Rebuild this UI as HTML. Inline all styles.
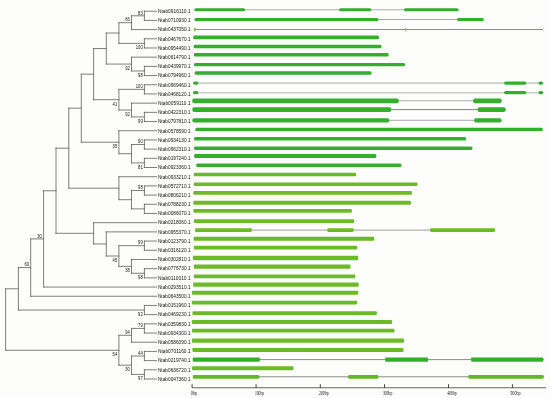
<!DOCTYPE html><html><head><meta charset="utf-8"><title>tree</title><style>html,body{margin:0;padding:0;background:#fdfdfc}svg{display:block}text{font-family:"Liberation Sans",Arial,sans-serif;fill:#141414}.ax{font-family:"Liberation Serif","Times New Roman",serif}</style></head><body>
<svg width="550" height="398" viewBox="0 0 550 398">
<rect width="550" height="398" fill="#fdfdfc"/>
<path d="M144.40 11.20L156.70 11.20M144.40 20.39L156.70 20.39M144.40 11.20L144.40 20.39M131.50 15.80L144.40 15.80M131.50 29.59L156.70 29.59M131.50 15.80L131.50 29.59M118.90 22.69L131.50 22.69M144.40 38.78L156.70 38.78M144.40 47.98L156.70 47.98M144.40 38.78L144.40 47.98M118.90 43.38L144.40 43.38M118.90 22.69L118.90 43.38M106.30 33.04L118.90 33.04M131.50 57.17L156.70 57.17M144.40 66.37L156.70 66.37M144.40 75.57L156.70 75.57M144.40 66.37L144.40 75.57M131.50 70.97L144.40 70.97M131.50 57.17L131.50 70.97M106.30 64.07L131.50 64.07M106.30 33.04L106.30 64.07M93.60 48.55L106.30 48.55M144.40 84.76L156.70 84.76M144.40 93.95L156.70 93.95M144.40 84.76L144.40 93.95M118.90 89.36L144.40 89.36M131.50 103.15L156.70 103.15M144.40 112.35L156.70 112.35M144.40 121.54L156.70 121.54M144.40 112.35L144.40 121.54M131.50 116.94L144.40 116.94M131.50 103.15L131.50 116.94M118.90 110.05L131.50 110.05M118.90 89.36L118.90 110.05M93.60 99.70L118.90 99.70M93.60 48.55L93.60 99.70M81.30 74.13L93.60 74.13M118.90 130.73L156.70 130.73M144.40 139.93L156.70 139.93M144.40 149.12L156.70 149.12M144.40 139.93L144.40 149.12M131.50 144.53L144.40 144.53M144.40 158.32L156.70 158.32M144.40 167.51L156.70 167.51M144.40 158.32L144.40 167.51M131.50 162.92L144.40 162.92M131.50 144.53L131.50 162.92M118.90 153.72L131.50 153.72M118.90 130.73L118.90 153.72M81.30 142.23L118.90 142.23M81.30 74.13L81.30 142.23M68.80 108.18L81.30 108.18M118.90 176.71L156.70 176.71M144.40 185.91L156.70 185.91M144.40 195.10L156.70 195.10M144.40 185.91L144.40 195.10M131.50 190.50L144.40 190.50M144.40 204.29L156.70 204.29M144.40 213.49L156.70 213.49M144.40 204.29L144.40 213.49M131.50 208.89L144.40 208.89M131.50 190.50L131.50 208.89M118.90 199.70L131.50 199.70M118.90 176.71L118.90 199.70M68.80 188.20L118.90 188.20M68.80 108.18L68.80 188.20M56.00 148.19L68.80 148.19M93.60 222.69L156.70 222.69M106.30 231.88L156.70 231.88M144.40 241.07L156.70 241.07M144.40 250.27L156.70 250.27M144.40 241.07L144.40 250.27M118.90 245.67L144.40 245.67M131.50 259.47L156.70 259.47M144.40 268.66L156.70 268.66M144.40 277.86L156.70 277.86M144.40 268.66L144.40 277.86M131.50 273.26L144.40 273.26M131.50 259.47L131.50 273.26M118.90 266.36L131.50 266.36M118.90 245.67L118.90 266.36M106.30 256.02L118.90 256.02M106.30 231.88L106.30 256.02M93.60 243.95L106.30 243.95M93.60 222.69L93.60 243.95M56.00 233.32L93.60 233.32M56.00 148.19L56.00 233.32M43.60 190.75L56.00 190.75M43.60 287.05L156.70 287.05M43.60 190.75L43.60 287.05M30.70 238.90L43.60 238.90M30.70 296.25L156.70 296.25M30.70 238.90L30.70 296.25M18.40 267.57L30.70 267.57M144.40 305.44L156.70 305.44M144.40 314.63L156.70 314.63M144.40 305.44L144.40 314.63M18.40 310.04L144.40 310.04M18.40 267.57L18.40 310.04M5.60 288.81L18.40 288.81M144.40 323.83L156.70 323.83M144.40 333.02L156.70 333.02M144.40 323.83L144.40 333.02M131.50 328.43L144.40 328.43M131.50 342.22L156.70 342.22M131.50 328.43L131.50 342.22M118.90 335.32L131.50 335.32M144.40 351.42L156.70 351.42M144.40 360.61L156.70 360.61M144.40 351.42L144.40 360.61M131.50 356.01L144.40 356.01M144.40 369.81L156.70 369.81M144.40 379.00L156.70 379.00M144.40 369.81L144.40 379.00M131.50 374.40L144.40 374.40M131.50 356.01L131.50 374.40M118.90 365.21L131.50 365.21M118.90 335.32L118.90 365.21M5.60 350.27L118.90 350.27M5.60 288.81L5.60 350.27" fill="none" stroke="#5e5e5e" stroke-width="0.8" stroke-linecap="square"/>
<text x="142.7" y="14.5" font-size="4.7" fill="#111" text-anchor="end" textLength="4.60" lengthAdjust="spacingAndGlyphs">83</text>
<text x="129.8" y="21.4" font-size="4.7" fill="#111" text-anchor="end" textLength="4.60" lengthAdjust="spacingAndGlyphs">66</text>
<text x="142.7" y="49.2" font-size="4.7" fill="#111" text-anchor="end" textLength="6.90" lengthAdjust="spacingAndGlyphs">100</text>
<text x="142.7" y="76.8" font-size="4.7" fill="#111" text-anchor="end" textLength="4.60" lengthAdjust="spacingAndGlyphs">98</text>
<text x="129.8" y="69.9" font-size="4.7" fill="#111" text-anchor="end" textLength="4.60" lengthAdjust="spacingAndGlyphs">92</text>
<text x="142.7" y="88.1" font-size="4.7" fill="#111" text-anchor="end" textLength="6.90" lengthAdjust="spacingAndGlyphs">100</text>
<text x="142.7" y="122.7" font-size="4.7" fill="#111" text-anchor="end" textLength="4.60" lengthAdjust="spacingAndGlyphs">99</text>
<text x="129.8" y="115.8" font-size="4.7" fill="#111" text-anchor="end" textLength="4.60" lengthAdjust="spacingAndGlyphs">92</text>
<text x="117.2" y="105.5" font-size="4.7" fill="#111" text-anchor="end" textLength="4.60" lengthAdjust="spacingAndGlyphs">41</text>
<text x="142.7" y="143.2" font-size="4.7" fill="#111" text-anchor="end" textLength="4.60" lengthAdjust="spacingAndGlyphs">90</text>
<text x="142.7" y="168.7" font-size="4.7" fill="#111" text-anchor="end" textLength="4.60" lengthAdjust="spacingAndGlyphs">81</text>
<text x="117.2" y="148.0" font-size="4.7" fill="#111" text-anchor="end" textLength="4.60" lengthAdjust="spacingAndGlyphs">35</text>
<text x="142.7" y="189.2" font-size="4.7" fill="#111" text-anchor="end" textLength="4.60" lengthAdjust="spacingAndGlyphs">98</text>
<text x="142.7" y="244.4" font-size="4.7" fill="#111" text-anchor="end" textLength="4.60" lengthAdjust="spacingAndGlyphs">99</text>
<text x="142.7" y="279.1" font-size="4.7" fill="#111" text-anchor="end" textLength="4.60" lengthAdjust="spacingAndGlyphs">98</text>
<text x="129.8" y="272.2" font-size="4.7" fill="#111" text-anchor="end" textLength="4.60" lengthAdjust="spacingAndGlyphs">38</text>
<text x="117.2" y="261.8" font-size="4.7" fill="#111" text-anchor="end" textLength="4.60" lengthAdjust="spacingAndGlyphs">45</text>
<text x="41.9" y="237.6" font-size="4.7" fill="#111" text-anchor="end" textLength="4.60" lengthAdjust="spacingAndGlyphs">30</text>
<text x="29.0" y="266.3" font-size="4.7" fill="#111" text-anchor="end" textLength="4.60" lengthAdjust="spacingAndGlyphs">60</text>
<text x="142.7" y="315.8" font-size="4.7" fill="#111" text-anchor="end" textLength="4.60" lengthAdjust="spacingAndGlyphs">92</text>
<text x="142.7" y="327.1" font-size="4.7" fill="#111" text-anchor="end" textLength="4.60" lengthAdjust="spacingAndGlyphs">79</text>
<text x="129.8" y="334.0" font-size="4.7" fill="#111" text-anchor="end" textLength="4.60" lengthAdjust="spacingAndGlyphs">94</text>
<text x="142.7" y="354.7" font-size="4.7" fill="#111" text-anchor="end" textLength="4.60" lengthAdjust="spacingAndGlyphs">44</text>
<text x="142.7" y="380.2" font-size="4.7" fill="#111" text-anchor="end" textLength="4.60" lengthAdjust="spacingAndGlyphs">97</text>
<text x="129.8" y="371.0" font-size="4.7" fill="#111" text-anchor="end" textLength="4.60" lengthAdjust="spacingAndGlyphs">30</text>
<text x="117.2" y="356.1" font-size="4.7" fill="#111" text-anchor="end" textLength="4.60" lengthAdjust="spacingAndGlyphs">54</text>
<text x="157.9" y="12.9" font-size="5" textLength="32.7" lengthAdjust="spacingAndGlyphs">Ntab0916110.1</text>
<text x="157.9" y="22.1" font-size="5" textLength="32.7" lengthAdjust="spacingAndGlyphs">Ntab0710930.1</text>
<text x="157.9" y="31.3" font-size="5" textLength="32.7" lengthAdjust="spacingAndGlyphs">Ntab0437050.1</text>
<text x="157.9" y="40.5" font-size="5" textLength="32.7" lengthAdjust="spacingAndGlyphs">Ntab0467670.1</text>
<text x="157.9" y="49.7" font-size="5" textLength="32.7" lengthAdjust="spacingAndGlyphs">Ntab0954490.1</text>
<text x="157.9" y="58.9" font-size="5" textLength="32.7" lengthAdjust="spacingAndGlyphs">Ntab0614790.1</text>
<text x="157.9" y="68.1" font-size="5" textLength="32.7" lengthAdjust="spacingAndGlyphs">Ntab0439970.1</text>
<text x="157.9" y="77.3" font-size="5" textLength="32.7" lengthAdjust="spacingAndGlyphs">Ntab0794960.1</text>
<text x="157.9" y="86.5" font-size="5" textLength="32.7" lengthAdjust="spacingAndGlyphs">Ntab0969460.1</text>
<text x="157.9" y="95.7" font-size="5" textLength="32.7" lengthAdjust="spacingAndGlyphs">Ntab0468120.1</text>
<text x="157.9" y="104.9" font-size="5" textLength="32.7" lengthAdjust="spacingAndGlyphs">Ntab0059110.1</text>
<text x="157.9" y="114.1" font-size="5" textLength="32.7" lengthAdjust="spacingAndGlyphs">Ntab0422310.1</text>
<text x="157.9" y="123.3" font-size="5" textLength="32.7" lengthAdjust="spacingAndGlyphs">Ntab0797810.1</text>
<text x="157.9" y="132.5" font-size="5" textLength="32.7" lengthAdjust="spacingAndGlyphs">Ntab0578590.1</text>
<text x="157.9" y="141.7" font-size="5" textLength="32.7" lengthAdjust="spacingAndGlyphs">Ntab0934130.1</text>
<text x="157.9" y="150.9" font-size="5" textLength="32.7" lengthAdjust="spacingAndGlyphs">Ntab0962310.1</text>
<text x="157.9" y="160.1" font-size="5" textLength="32.7" lengthAdjust="spacingAndGlyphs">Ntab0197240.1</text>
<text x="157.9" y="169.3" font-size="5" textLength="32.7" lengthAdjust="spacingAndGlyphs">Ntab0923360.1</text>
<text x="157.9" y="178.5" font-size="5" textLength="32.7" lengthAdjust="spacingAndGlyphs">Ntab0933210.1</text>
<text x="157.9" y="187.7" font-size="5" textLength="32.7" lengthAdjust="spacingAndGlyphs">Ntab0572710.1</text>
<text x="157.9" y="196.8" font-size="5" textLength="32.7" lengthAdjust="spacingAndGlyphs">Ntab0806210.1</text>
<text x="157.9" y="206.0" font-size="5" textLength="32.7" lengthAdjust="spacingAndGlyphs">Ntab0788230.1</text>
<text x="157.9" y="215.2" font-size="5" textLength="32.7" lengthAdjust="spacingAndGlyphs">Ntab0086070.1</text>
<text x="157.9" y="224.4" font-size="5" textLength="32.7" lengthAdjust="spacingAndGlyphs">Ntab0218060.1</text>
<text x="157.9" y="233.6" font-size="5" textLength="32.7" lengthAdjust="spacingAndGlyphs">Ntab0955370.1</text>
<text x="157.9" y="242.8" font-size="5" textLength="32.7" lengthAdjust="spacingAndGlyphs">Ntab0123790.1</text>
<text x="157.9" y="252.0" font-size="5" textLength="32.7" lengthAdjust="spacingAndGlyphs">Ntab0316120.1</text>
<text x="157.9" y="261.2" font-size="5" textLength="32.7" lengthAdjust="spacingAndGlyphs">Ntab0302810.1</text>
<text x="157.9" y="270.4" font-size="5" textLength="32.7" lengthAdjust="spacingAndGlyphs">Ntab0776730.1</text>
<text x="157.9" y="279.6" font-size="5" textLength="32.7" lengthAdjust="spacingAndGlyphs">Ntab0110010.1</text>
<text x="157.9" y="288.8" font-size="5" textLength="32.7" lengthAdjust="spacingAndGlyphs">Ntab0293510.1</text>
<text x="157.9" y="298.0" font-size="5" textLength="32.7" lengthAdjust="spacingAndGlyphs">Ntab0643500.1</text>
<text x="157.9" y="307.2" font-size="5" textLength="32.7" lengthAdjust="spacingAndGlyphs">Ntab0151960.1</text>
<text x="157.9" y="316.4" font-size="5" textLength="32.7" lengthAdjust="spacingAndGlyphs">Ntab0469230.1</text>
<text x="157.9" y="325.6" font-size="5" textLength="32.7" lengthAdjust="spacingAndGlyphs">Ntab0359830.1</text>
<text x="157.9" y="334.8" font-size="5" textLength="32.7" lengthAdjust="spacingAndGlyphs">Ntab0934300.1</text>
<text x="157.9" y="344.0" font-size="5" textLength="32.7" lengthAdjust="spacingAndGlyphs">Ntab0586090.1</text>
<text x="157.9" y="353.2" font-size="5" textLength="32.7" lengthAdjust="spacingAndGlyphs">Ntab0701160.1</text>
<text x="157.9" y="362.4" font-size="5" textLength="32.7" lengthAdjust="spacingAndGlyphs">Ntab0219740.1</text>
<text x="157.9" y="371.6" font-size="5" textLength="32.7" lengthAdjust="spacingAndGlyphs">Ntab0636720.1</text>
<text x="157.9" y="380.8" font-size="5" textLength="32.7" lengthAdjust="spacingAndGlyphs">Ntab0047360.1</text>
<line x1="195.4" y1="9.8" x2="459.0" y2="9.8" stroke="#aaaaaa" stroke-width="1.0"/>
<rect x="194.4" y="8.30" width="50.7" height="3.0" rx="1.35" ry="1.50" fill="#33af2c"/>
<rect x="339.1" y="8.30" width="32.2" height="3.0" rx="1.35" ry="1.50" fill="#33af2c"/>
<rect x="404.0" y="8.30" width="54.5" height="3.0" rx="1.35" ry="1.50" fill="#33af2c"/>
<line x1="195.4" y1="19.5" x2="484.2" y2="19.5" stroke="#aaaaaa" stroke-width="1.0"/>
<rect x="194.4" y="18.00" width="184.1" height="3.0" rx="1.35" ry="1.50" fill="#33af2c"/>
<rect x="457.0" y="18.00" width="26.7" height="3.0" rx="1.35" ry="1.50" fill="#33af2c"/>
<line x1="194.9" y1="29.5" x2="543.0" y2="29.5" stroke="#7d7d7d" stroke-width="0.9"/>
<rect x="193.9" y="27.50" width="1.7" height="4.0" rx="0.85" ry="2.00" fill="#62bf2e"/>
<rect x="193.2" y="35.52" width="185.8" height="3.8" rx="1.35" ry="1.50" fill="#33af2c"/>
<rect x="193.6" y="44.73" width="187.9" height="3.6" rx="1.35" ry="1.50" fill="#33af2c"/>
<rect x="193.8" y="53.03" width="194.9" height="3.4" rx="1.35" ry="1.50" fill="#33af2c"/>
<rect x="194.0" y="62.92" width="211.1" height="3.4" rx="1.35" ry="1.50" fill="#33af2c"/>
<rect x="194.6" y="71.23" width="176.9" height="3.4" rx="1.35" ry="1.50" fill="#33af2c"/>
<line x1="194.0" y1="83.1" x2="543.6" y2="83.1" stroke="#cccccc" stroke-width="1.6"/>
<rect x="193.0" y="81.45" width="5.4" height="3.3" rx="1.65" ry="1.65" fill="#33af2c"/>
<rect x="504.1" y="81.45" width="22.2" height="3.3" rx="1.65" ry="1.65" fill="#33af2c"/>
<rect x="538.5" y="81.45" width="4.6" height="3.3" rx="1.65" ry="1.65" fill="#33af2c"/>
<line x1="194.0" y1="92.7" x2="543.6" y2="92.7" stroke="#cccccc" stroke-width="1.6"/>
<rect x="193.0" y="91.05" width="5.4" height="3.3" rx="1.65" ry="1.65" fill="#33af2c"/>
<rect x="504.1" y="91.05" width="22.2" height="3.3" rx="1.65" ry="1.65" fill="#33af2c"/>
<rect x="538.5" y="91.05" width="4.6" height="3.3" rx="1.65" ry="1.65" fill="#33af2c"/>
<line x1="193.3" y1="100.8" x2="502.0" y2="100.8" stroke="#a8a8a8" stroke-width="1.0"/>
<rect x="192.3" y="98.45" width="206.4" height="4.7" rx="1.90" ry="1.90" fill="#33af2c"/>
<rect x="473.1" y="98.45" width="28.4" height="4.7" rx="1.90" ry="1.90" fill="#33af2c"/>
<line x1="193.3" y1="109.6" x2="506.0" y2="109.6" stroke="#808080" stroke-width="1.0"/>
<rect x="192.3" y="107.25" width="199.0" height="4.7" rx="1.90" ry="1.90" fill="#33af2c"/>
<rect x="477.5" y="107.25" width="28.0" height="4.7" rx="1.90" ry="1.90" fill="#33af2c"/>
<line x1="193.3" y1="120.3" x2="502.0" y2="120.3" stroke="#a8a8a8" stroke-width="1.0"/>
<rect x="192.3" y="118.20" width="197.0" height="4.2" rx="1.90" ry="1.90" fill="#33af2c"/>
<rect x="474.1" y="118.20" width="27.4" height="4.2" rx="1.90" ry="1.90" fill="#33af2c"/>
<rect x="195.2" y="127.63" width="347.7" height="3.4" rx="1.35" ry="1.50" fill="#33af2c"/>
<rect x="194.0" y="137.12" width="272.0" height="3.4" rx="1.35" ry="1.50" fill="#33af2c"/>
<rect x="194.1" y="146.52" width="278.4" height="3.4" rx="1.35" ry="1.50" fill="#33af2c"/>
<rect x="194.1" y="154.10" width="182.2" height="4.0" rx="1.35" ry="1.50" fill="#33af2c"/>
<rect x="196.2" y="163.40" width="205.3" height="3.6" rx="1.35" ry="1.50" fill="#33af2c"/>
<rect x="193.7" y="172.75" width="162.4" height="3.5" rx="1.00" ry="1.10" fill="#6cba26"/>
<rect x="193.7" y="182.55" width="223.8" height="3.5" rx="1.00" ry="1.10" fill="#6cba26"/>
<rect x="193.3" y="191.00" width="218.6" height="3.8" rx="1.00" ry="1.10" fill="#6cba26"/>
<rect x="193.3" y="200.80" width="217.6" height="4.0" rx="1.00" ry="1.10" fill="#6cba26"/>
<rect x="193.3" y="209.10" width="158.6" height="3.6" rx="1.00" ry="1.10" fill="#6cba26"/>
<rect x="193.8" y="219.15" width="160.3" height="3.9" rx="1.00" ry="1.10" fill="#6cba26"/>
<line x1="196.0" y1="230.1" x2="495.5" y2="230.1" stroke="#b0b0b0" stroke-width="1.2"/>
<rect x="195.0" y="228.32" width="56.8" height="3.6" rx="1.00" ry="1.10" fill="#6cba26"/>
<rect x="327.3" y="228.32" width="26.4" height="3.6" rx="1.00" ry="1.10" fill="#6cba26"/>
<rect x="430.1" y="228.32" width="64.9" height="3.6" rx="1.00" ry="1.10" fill="#6cba26"/>
<rect x="193.6" y="236.85" width="180.7" height="3.9" rx="1.00" ry="1.10" fill="#6cba26"/>
<rect x="193.8" y="245.65" width="163.4" height="3.9" rx="1.00" ry="1.10" fill="#6cba26"/>
<rect x="192.8" y="255.65" width="165.5" height="4.5" rx="1.00" ry="1.10" fill="#6cba26"/>
<rect x="193.8" y="264.55" width="156.7" height="4.3" rx="1.00" ry="1.10" fill="#6cba26"/>
<rect x="193.8" y="274.45" width="161.5" height="3.9" rx="1.00" ry="1.10" fill="#6cba26"/>
<rect x="193.1" y="282.55" width="165.7" height="4.1" rx="1.00" ry="1.10" fill="#6cba26"/>
<rect x="192.0" y="290.65" width="166.2" height="4.1" rx="1.00" ry="1.10" fill="#6cba26"/>
<rect x="191.8" y="300.82" width="165.4" height="3.8" rx="1.00" ry="1.10" fill="#6cba26"/>
<rect x="192.5" y="311.32" width="184.4" height="3.8" rx="1.00" ry="1.10" fill="#6cba26"/>
<rect x="191.8" y="319.95" width="200.3" height="4.1" rx="1.00" ry="1.10" fill="#6cba26"/>
<rect x="191.9" y="328.82" width="202.6" height="3.8" rx="1.00" ry="1.10" fill="#6cba26"/>
<rect x="191.9" y="338.45" width="212.1" height="4.3" rx="1.00" ry="1.10" fill="#6cba26"/>
<rect x="192.4" y="348.12" width="211.1" height="3.8" rx="1.00" ry="1.10" fill="#6cba26"/>
<line x1="193.7" y1="359.6" x2="543.8" y2="359.6" stroke="#8a8a8a" stroke-width="1.0"/>
<rect x="192.7" y="357.45" width="67.2" height="4.3" rx="1.00" ry="1.10" fill="#33af2c"/>
<rect x="385.1" y="357.45" width="43.0" height="4.3" rx="1.00" ry="1.10" fill="#33af2c"/>
<rect x="471.1" y="357.45" width="72.2" height="4.3" rx="1.00" ry="1.10" fill="#33af2c"/>
<rect x="192.0" y="366.35" width="101.5" height="3.9" rx="1.00" ry="1.10" fill="#6cba26"/>
<line x1="193.8" y1="376.8" x2="544.2" y2="376.8" stroke="#8a8a8a" stroke-width="1.0"/>
<rect x="192.8" y="374.93" width="66.5" height="3.8" rx="1.00" ry="1.10" fill="#5fb923"/>
<rect x="348.1" y="374.93" width="30.2" height="3.8" rx="1.00" ry="1.10" fill="#5fb923"/>
<rect x="468.3" y="374.93" width="75.4" height="3.8" rx="1.00" ry="1.10" fill="#5fb923"/>
<rect x="405.2" y="27.4" width="1.1" height="4.1" rx="0.5" fill="#84c043"/>
<rect x="542.9" y="27.3" width="1.0" height="4.2" fill="#dfe9cb"/>
<path d="M192.1 387.75H546" stroke="#5e4e56" stroke-width="0.9" fill="none"/>
<path d="M192.1 384.2V388" stroke="#333" stroke-width="0.9" fill="none"/>
<path d="M256.1 384.2V388" stroke="#333" stroke-width="0.9" fill="none"/>
<path d="M320.3 384.2V388" stroke="#333" stroke-width="0.9" fill="none"/>
<path d="M384.5 384.2V388" stroke="#333" stroke-width="0.9" fill="none"/>
<path d="M448.5 384.2V388" stroke="#333" stroke-width="0.9" fill="none"/>
<path d="M512.4 384.2V388" stroke="#333" stroke-width="0.9" fill="none"/>
<text class="ax" x="190.8" y="395.2" font-size="6.3" fill="#3a2f3a" textLength="6.2" lengthAdjust="spacingAndGlyphs">0bp</text>
<text class="ax" x="254.9" y="395.2" font-size="6.3" fill="#3a2f3a" textLength="9.3" lengthAdjust="spacingAndGlyphs">100bp</text>
<text class="ax" x="319.0" y="395.2" font-size="6.3" fill="#3a2f3a" textLength="9.6" lengthAdjust="spacingAndGlyphs">200bp</text>
<text class="ax" x="382.9" y="395.2" font-size="6.3" fill="#3a2f3a" textLength="9.4" lengthAdjust="spacingAndGlyphs">300bp</text>
<text class="ax" x="447.2" y="395.2" font-size="6.3" fill="#3a2f3a" textLength="9.6" lengthAdjust="spacingAndGlyphs">400bp</text>
<text class="ax" x="510.3" y="395.2" font-size="6.3" fill="#3a2f3a" textLength="10.3" lengthAdjust="spacingAndGlyphs">500bp</text>
</svg></body></html>
